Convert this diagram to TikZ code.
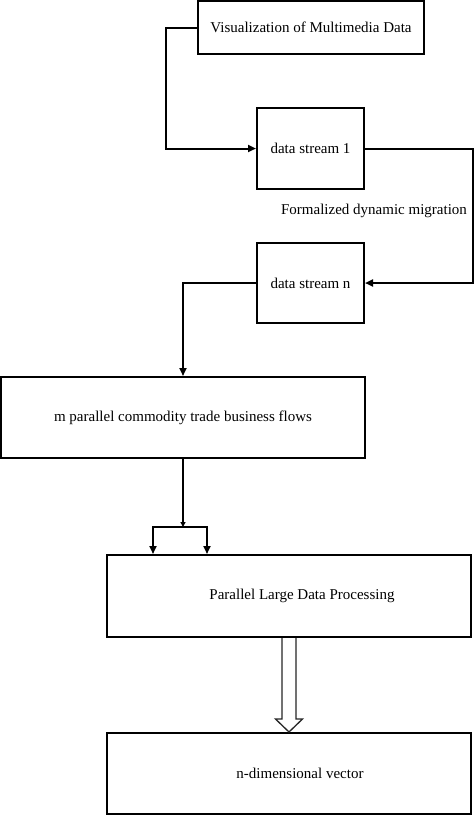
\documentclass[tikz,border=0pt]{standalone}
\usepackage{fontspec}
\setmainfont{Liberation Serif}
\usetikzlibrary{arrows.meta,calc}
\begin{document}
\begin{tikzpicture}[x=1pt,y=-1pt,
  box/.style={draw, line width=2pt, inner sep=0pt, font=\fontsize{15}{18}\selectfont},
  conn/.style={line width=2pt, -{Triangle[length=8pt,width=7pt]}},
  smallconn/.style={line width=2pt, -{Triangle[length=5pt,width=5pt]}},
  lbl/.style={font=\fontsize{15}{18}\selectfont, inner sep=0pt},
  hollow/.style={draw=black!85, line width=1.3pt, fill=white, line join=miter}
]
\useasboundingbox (0,0) rectangle (474,815);
\node[box, minimum width=226pt, minimum height=53pt] (vis) at (311,27.5) {Visualization of Multimedia Data};
\node[box, minimum width=107pt, minimum height=81pt] (ds1) at (310.5,148.5) {data stream 1};
\node[box, minimum width=107pt, minimum height=80pt] (dsn) at (310.5,283) {data stream n};
\node[box, minimum width=364pt, minimum height=81pt] (mb) at (183,417.5) {m parallel commodity trade business flows};
\node[box, minimum width=364pt, minimum height=82pt] (pl) at (289,596) {\hspace*{26pt}Parallel Large Data Processing};
\node[box, minimum width=364pt, minimum height=81pt] (nd) at (289,773.5) {\hspace*{22pt}n-dimensional vector};
\node[lbl] (mig) at (374,211) {Formalized dynamic migration};
\coordinate (j) at ($(mb.south)+(0,68)$);

\draw[conn] (vis.west) -- ++(-31,0) |- (ds1.west);
\draw[conn] (ds1.east) -- ++(108,0) |- (dsn.east);
\draw[conn] (dsn.west) -| (mb.north);
\draw[smallconn] (mb.south) -- (j);
\draw[conn] (j) -| ($(pl.north west)+(47,0)$);
\draw[conn] (j) -| ($(pl.north west)+(101,0)$);
\draw[hollow] ($(pl.south)+(-7,0)$) -- ($(nd.north)+(-7,-13)$) -- ($(nd.north)+(-13.5,-13)$) -- (nd.north) -- ($(nd.north)+(13.5,-13)$) -- ($(nd.north)+(7,-13)$) -- ($(pl.south)+(7,0)$);
\end{tikzpicture}
\end{document}
